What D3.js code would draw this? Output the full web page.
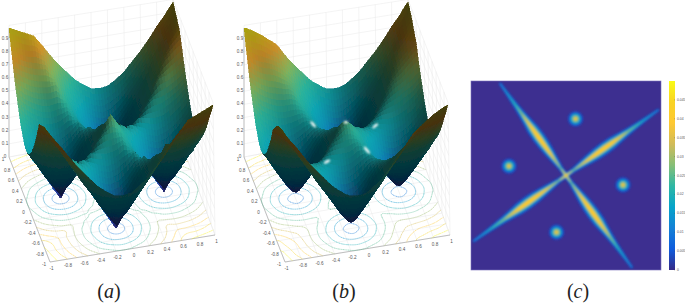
<!DOCTYPE html>
<html>
<head>
<meta charset="utf-8">
<style>
  html, body { margin: 0; background: #fff; }
  text { font-family: "Liberation Sans", Arial, sans-serif; }
</style>
<script src="https://cdn.jsdelivr.net/npm/d3@7"></script>
</head>
<body>
<svg id="chart" width="685" height="304"></svg>
<script>
// surface heights, rows run y = 1 ... -1, columns x = -1 ... 1
const surfaceA = [
  [.98,.95,.92,.89,.81,.72,.64,.57,.50,.45,.41,.40,.41,.45,.50,.57,.64,.72,.81,.89,.98],
  [.89,.85,.82,.81,.76,.67,.58,.50,.42,.36,.32,.30,.32,.36,.42,.50,.58,.67,.76,.85,.95],
  [.81,.76,.73,.71,.70,.63,.54,.45,.36,.28,.22,.20,.22,.28,.36,.45,.54,.63,.73,.82,.92],
  [.72,.67,.63,.61,.60,.61,.51,.41,.32,.22,.14,.10,.14,.22,.32,.41,.51,.61,.71,.81,.89],
  [.64,.58,.54,.51,.50,.51,.50,.40,.30,.20,.10,.00,.10,.20,.30,.40,.50,.60,.70,.76,.81],
  [.57,.50,.45,.41,.40,.41,.45,.41,.32,.22,.14,.10,.14,.22,.32,.41,.51,.61,.63,.67,.72],
  [.50,.42,.36,.32,.30,.32,.36,.42,.36,.28,.22,.20,.22,.28,.36,.45,.50,.51,.54,.58,.64],
  [.45,.36,.28,.22,.20,.22,.28,.36,.42,.36,.32,.30,.32,.36,.42,.41,.40,.41,.45,.50,.57],
  [.41,.32,.22,.14,.10,.14,.22,.32,.41,.45,.41,.40,.41,.42,.36,.32,.30,.32,.36,.42,.50],
  [.40,.30,.20,.10,.00,.10,.20,.30,.40,.50,.51,.50,.45,.36,.28,.22,.20,.22,.28,.36,.45],
  [.41,.32,.22,.14,.10,.14,.22,.32,.41,.51,.61,.51,.41,.32,.22,.14,.10,.14,.22,.32,.41],
  [.45,.36,.28,.22,.20,.22,.28,.36,.45,.50,.51,.50,.40,.30,.20,.10,.00,.10,.20,.30,.40],
  [.50,.42,.36,.32,.30,.32,.36,.42,.41,.40,.41,.45,.41,.32,.22,.14,.10,.14,.22,.32,.41],
  [.57,.50,.45,.41,.40,.41,.42,.36,.32,.30,.32,.36,.42,.36,.28,.22,.20,.22,.28,.36,.45],
  [.64,.58,.54,.51,.50,.45,.36,.28,.22,.20,.22,.28,.36,.42,.36,.32,.30,.32,.36,.42,.50],
  [.72,.67,.63,.61,.51,.41,.32,.22,.14,.10,.14,.22,.32,.41,.45,.41,.40,.41,.45,.50,.57],
  [.81,.76,.70,.60,.50,.40,.30,.20,.10,.00,.10,.20,.30,.40,.50,.51,.50,.51,.54,.58,.64],
  [.89,.81,.71,.61,.51,.41,.32,.22,.14,.10,.14,.22,.32,.41,.51,.61,.60,.61,.63,.67,.72],
  [.92,.82,.73,.63,.54,.45,.36,.28,.22,.20,.22,.28,.36,.45,.54,.63,.70,.71,.73,.76,.81],
  [.95,.85,.76,.67,.58,.50,.42,.36,.32,.30,.32,.36,.42,.50,.58,.67,.76,.81,.82,.85,.89],
  [.98,.89,.81,.72,.64,.57,.50,.45,.41,.40,.41,.45,.50,.57,.64,.72,.81,.89,.92,.95,.98]
];
const surfaceB = [
  [.98,.95,.91,.86,.81,.72,.64,.57,.50,.45,.41,.40,.41,.45,.50,.57,.64,.72,.81,.89,.98],
  [.89,.85,.82,.78,.74,.67,.58,.50,.42,.36,.32,.30,.32,.36,.42,.50,.58,.67,.76,.85,.95],
  [.81,.76,.73,.71,.67,.61,.54,.45,.36,.285,.225,.205,.225,.285,.36,.45,.54,.63,.73,.82,.91],
  [.72,.67,.63,.61,.59,.57,.50,.41,.32,.225,.15,.105,.15,.225,.32,.41,.51,.61,.71,.78,.86],
  [.64,.58,.54,.51,.50,.50,.47,.395,.30,.205,.105,.05,.105,.205,.30,.40,.50,.59,.67,.74,.81],
  [.57,.50,.45,.41,.40,.41,.43,.40,.32,.225,.15,.105,.15,.225,.32,.41,.50,.57,.61,.67,.72],
  [.50,.42,.36,.32,.30,.32,.36,.395,.355,.285,.225,.205,.225,.285,.36,.43,.47,.50,.54,.58,.64],
  [.45,.36,.285,.225,.205,.225,.285,.36,.395,.36,.32,.30,.32,.36,.395,.40,.395,.41,.45,.50,.57],
  [.41,.32,.225,.15,.105,.15,.225,.32,.40,.44,.405,.40,.40,.395,.355,.32,.30,.32,.36,.42,.50],
  [.40,.30,.205,.105,.05,.105,.205,.30,.40,.47,.50,.47,.44,.36,.285,.225,.205,.225,.285,.36,.45],
  [.41,.32,.225,.15,.105,.15,.225,.32,.405,.50,.55,.50,.405,.32,.225,.15,.105,.15,.225,.32,.41],
  [.45,.36,.285,.225,.205,.225,.285,.36,.44,.47,.50,.47,.40,.30,.205,.105,.05,.105,.205,.30,.40],
  [.50,.42,.36,.32,.30,.32,.355,.395,.40,.40,.405,.44,.40,.32,.225,.15,.105,.15,.225,.32,.41],
  [.57,.50,.45,.41,.395,.40,.395,.36,.32,.30,.32,.36,.395,.36,.285,.225,.205,.225,.285,.36,.45],
  [.64,.58,.54,.50,.47,.43,.36,.285,.225,.205,.225,.285,.355,.395,.36,.32,.30,.32,.36,.42,.50],
  [.72,.67,.61,.57,.50,.41,.32,.225,.15,.105,.15,.225,.32,.40,.43,.41,.40,.41,.45,.50,.57],
  [.81,.74,.67,.59,.50,.40,.30,.205,.105,.05,.105,.205,.30,.395,.47,.50,.50,.51,.54,.58,.64],
  [.86,.78,.71,.61,.51,.41,.32,.225,.15,.105,.15,.225,.32,.41,.50,.57,.59,.61,.63,.67,.72],
  [.91,.82,.73,.63,.54,.45,.36,.285,.225,.205,.225,.285,.36,.45,.54,.61,.67,.71,.73,.76,.81],
  [.95,.85,.76,.67,.58,.50,.42,.36,.32,.30,.32,.36,.42,.50,.58,.67,.74,.78,.82,.85,.89],
  [.98,.89,.81,.72,.64,.57,.50,.45,.41,.40,.41,.45,.50,.57,.64,.72,.81,.86,.91,.95,.98]
];

const contourLevels = [.1, .2, .3, .4, .5, .6, .7, .8, .9];
const axisTicks = [-1, -.8, -.6, -.4, -.2, 0, .2, .4, .6, .8, 1];
const heightTicks = [0, .1, .2, .3, .4, .5, .6, .7, .8, .9];

// bright highlights on the rounded ridges of (b)
const glintX = [-.3, .42, -.28, .18, 0];
const glintY = [.42, .3, -.2, -.3, 0];
const glintZ = [.4, .36, .36, .44, .55];

// panel (c): isolated peaks and the four arms
const peakX = [.1, -.6, .6, -.1];
const peakY = [.6, .1, -.1, -.6];
const peakLevels = [.004, .012, .02, .03, .038];
const peakRadii = [.08, .062, .045, .03, .014];
const centreRadii = [.04, .034, .026, .019, .012];
const armAngles = [35.5, 125.5, 215.5, 305.5];
const armStations = [0, .1, .2, .3, .4, .5, .6, .7, .8, .9, 1, 1.1, 1.2];
const armLevels = [.004, .01, .02, .03, .04];
const armWidths = [
  [.024, .028, .042, .056, .066, .07, .066, .052, .04, .03, .024, .018, .015],
  [.02, .016, .03, .042, .052, .056, .052, .04, .028, .02, .015, .012, .008],
  [.016, .008, .018, .03, .038, .042, .038, .026, .016, .01, .005, .002, 0],
  [.01, .003, .01, .02, .027, .03, .026, .016, .006, .002, 0, 0, 0],
  [.005, 0, .002, .01, .016, .019, .014, .005, 0, 0, 0, 0, 0]
];
const barTicks = [0, .005, .01, .015, .02, .025, .03, .035, .04, .045];
const barTickLabels = ["0", "0.005", "0.01", "0.015", "0.02", "0.025", "0.03", "0.035", "0.04", "0.045"];

const parulaStops = ["#352a87", "#0f5cdd", "#1481d6", "#06a4ca", "#2eb7a4", "#87bf77", "#d1bb59", "#fec832", "#f9d324", "#f9fb15"];
const surfaceStops = ["#352a87", "#2040a8", "#1068b0", "#0a88a8", "#0c9aa8", "#2aa890", "#78a858", "#c48a28", "#b4ae10"];
const surfaceStopHeights = [0, .08, .15, .25, .35, .5, .65, .8, .98];

const svg = d3.select("#chart");
const defs = svg.append("defs");

defs.append("filter").attr("id", "soft").attr("x", "-5%").attr("y", "-5%").attr("width", "110%").attr("height", "110%")
  .append("feGaussianBlur").attr("stdDeviation", 0.6);
defs.append("filter").attr("id", "softer").attr("x", "-20%").attr("y", "-20%").attr("width", "140%").attr("height", "140%")
  .append("feGaussianBlur").attr("stdDeviation", 1);
defs.append("filter").attr("id", "glow").attr("x", "-100%").attr("y", "-100%").attr("width", "300%").attr("height", "300%")
  .append("feGaussianBlur").attr("stdDeviation", 0.8);

const parula = d3.scaleLinear()
  .domain(parulaStops.map((c, i) => i / (parulaStops.length - 1)))
  .range(parulaStops)
  .clamp(true);
const surfaceColor = d3.scaleLinear().domain(surfaceStopHeights).range(surfaceStops).clamp(true);

// trilinear box: floor corners and the corners at the top of the surface
const uScale = d3.scaleLinear().domain([-1, 1]).range([0, 1]);
const vScale = d3.scaleLinear().domain([-1, 1]).range([0, 1]);
const wScale = d3.scaleLinear().domain([0, .98]).range([0, 1]);
const floorBox = { fl: [50, 262], fr: [215, 235], bl: [9, 157], br: [175, 126] };
const topBox = { fl: [44, 127], fr: [213, 105], bl: [9, 28], br: [173, 2] };

function mixBox(b, u, v) {
  return [0, 1].map(k =>
    (1 - u) * (1 - v) * b.fl[k] + u * (1 - v) * b.fr[k] + (1 - u) * v * b.bl[k] + u * v * b.br[k]);
}

function project(x, y, z, dx) {
  const u = uScale(x), v = vScale(y), w = wScale(z);
  const a = mixBox(floorBox, u, v), b = mixBox(topBox, u, v);
  return [dx + a[0] + (b[0] - a[0]) * w, a[1] + (b[1] - a[1]) * w];
}

// light comes from the right and a little from the front, camera from the front left
const light = [.71, -.36, .6];
const camera = [-.22, -.9, .38];

function sampleGrid(grid, ci, cj) {
  const last = grid.length - 2;
  const i = Math.min(Math.floor(ci), last), j = Math.min(Math.floor(cj), last);
  const s = ci - i, t = cj - j;
  return (1 - s) * (1 - t) * grid[j][i] + s * (1 - t) * grid[j][i + 1] +
    (1 - s) * t * grid[j + 1][i] + s * t * grid[j + 1][i + 1];
}

function vertexSlopes(grid) {
  const n = grid.length, h = 2 / (n - 1);
  const gx = grid.map((row, j) => row.map((_, i) => {
    const a = Math.max(i - 1, 0), b = Math.min(i + 1, n - 1);
    return (grid[j][b] - grid[j][a]) / ((b - a) * h);
  }));
  const gy = grid.map((row, j) => row.map((_, i) => {
    const a = Math.max(j - 1, 0), b = Math.min(j + 1, n - 1);
    return (grid[a][i] - grid[b][i]) / ((b - a) * h);
  }));
  return { gx, gy };
}

// rendering only, like shading interp: rounds the read grid between its samples
function refine(grid, factor) {
  const cubic = (p, t) => {
    const [a, b, c, d] = p;
    return b + .5 * t * (c - a + t * (2 * a - 5 * b + 4 * c - d + t * (3 * (b - c) + d - a)));
  };
  const pass = row => {
    const out = [];
    for (let i = 0; i < row.length - 1; i++) {
      const p = [row[Math.max(i - 1, 0)], row[i], row[i + 1], row[Math.min(i + 2, row.length - 1)]];
      for (let k = 0; k < factor; k++) out.push(cubic(p, k / factor));
    }
    out.push(row[row.length - 1]);
    return out;
  };
  const rows = grid.map(pass);
  const cols = d3.transpose(rows).map(pass);
  return d3.transpose(cols);
}

function buildQuads(grid, creased, dx, steps) {
  const quads = [];
  const cells = grid.length - 1, h = 2 / cells;
  const slopes = vertexSlopes(grid);
  const fine = refine(grid, steps);
  const fineX = refine(slopes.gx, steps);
  const fineY = refine(slopes.gy, steps);
  const size = 1 / steps;
  const toX = c => -1 + c * h, toY = c => 1 - c * h;
  // creased surfaces keep straight facets between samples so cone tips stay sharp
  const height = (r, q) => creased ? sampleGrid(grid, q * size, r * size) : fine[r][q];
  // back rows first, then right to left, so nearer facets paint over farther ones
  for (let r = 0; r < cells * steps; r++) {
    for (let q = cells * steps - 1; q >= 0; q--) {
      const i0 = q * size, j0 = r * size, i1 = i0 + size, j1 = j0 + size;
      const z00 = height(r, q), z10 = height(r, q + 1);
      const z01 = height(r + 1, q), z11 = height(r + 1, q + 1);
      const fx = sampleGrid(fineX, q + .5, r + .5);
      const fy = sampleGrid(fineY, q + .5, r + .5);
      let n = [-fx, -fy, 1];
      const len = Math.hypot(n[0], n[1], n[2]);
      n = n.map(v => v / len);
      if (d3.sum(n, (v, k) => v * camera[k]) < 0) n = n.map(v => -v);
      const diffuse = Math.max(0, d3.sum(n, (v, k) => v * light[k]));
      const shade = .36 + .72 * Math.pow(diffuse, 1.2);
      const zMid = (z00 + z10 + z01 + z11) / 4;
      const c = d3.rgb(surfaceColor(zMid));
      const fill = d3.rgb(c.r * shade, c.g * shade, c.b * shade).formatRgb();
      quads.push({
        pts: [
          project(toX(i0), toY(j0), z00, dx), project(toX(i1), toY(j0), z10, dx),
          project(toX(i1), toY(j1), z11, dx), project(toX(i0), toY(j1), z01, dx)
        ],
        fill
      });
    }
  }
  return quads;
}

const quadPath = d3.line().curve(d3.curveLinearClosed);

function drawFrame(g, dx) {
  const lineOf = d3.line();
  const gridColor = "#e9e9e9";
  const walls = [];
  axisTicks.forEach(t => {
    walls.push([project(t, -1, 0, dx), project(t, 1, 0, dx)]);
    walls.push([project(-1, t, 0, dx), project(1, t, 0, dx)]);
    walls.push([project(t, 1, 0, dx), project(t, 1, 1, dx)]);
    walls.push([project(1, t, 0, dx), project(1, t, 1, dx)]);
  });
  heightTicks.concat([1]).forEach(h => {
    walls.push([project(-1, 1, h, dx), project(1, 1, h, dx)]);
    walls.push([project(1, 1, h, dx), project(1, -1, h, dx)]);
  });
  g.append("g").selectAll("path").data(walls).join("path")
    .attr("d", lineOf).attr("fill", "none").attr("stroke", gridColor).attr("stroke-width", 0.5);

  const axes = [
    [project(-1, 1, 0, dx), project(-1, -1, 0, dx)],
    [project(-1, -1, 0, dx), project(1, -1, 0, dx)],
    [project(-1, 1, 0, dx), project(-1, 1, .98, dx)]
  ];
  g.append("g").selectAll("path").data(axes).join("path")
    .attr("d", lineOf).attr("fill", "none").attr("stroke", "#9a9a9a").attr("stroke-width", 0.6);

  const label = s => String(s);
  g.append("g").selectAll("text").data(axisTicks).join("text")
    .attr("x", d => project(d, -1, 0, dx)[0] + 1.5)
    .attr("y", d => project(d, -1, 0, dx)[1] + 8)
    .attr("text-anchor", "middle").attr("font-size", 4.6).attr("fill", "#555")
    .text(label);
  g.append("g").selectAll("text").data(axisTicks).join("text")
    .attr("x", d => project(-1, d, 0, dx)[0] - 6)
    .attr("y", d => project(-1, d, 0, dx)[1] + 4)
    .attr("text-anchor", "middle").attr("font-size", 4.6).attr("fill", "#555")
    .text(label);
  g.append("g").selectAll("text").data(heightTicks).join("text")
    .attr("x", d => project(-1, 1, d, dx)[0] - 4)
    .attr("y", d => project(-1, 1, d, dx)[1] + 1)
    .attr("text-anchor", "middle").attr("font-size", 4.6).attr("fill", "#555")
    .text(label);
}

function drawContours(g, grid, dx) {
  const fine = refine(grid, 4);
  const n = fine.length, h = 2 / (n - 1);
  const contours = d3.contours().size([n, n]).smooth(true).thresholds(contourLevels)(fine.flat());
  const lo = .5, hi = n - .5;
  const clampC = c => Math.max(lo, Math.min(hi, c));
  const sameBorder = (a, b) =>
    (a[0] === b[0] && (a[0] === lo || a[0] === hi)) || (a[1] === b[1] && (a[1] === lo || a[1] === hi));
  contours.forEach(c => {
    const p = d3.path();
    c.coordinates.forEach(poly => poly.forEach(ring => {
      for (let k = 1; k < ring.length; k++) {
        const a = ring[k - 1].map(clampC), b = ring[k].map(clampC);
        if (sameBorder(a, b)) continue;
        const pa = project(-1 + (a[0] - .5) * h, 1 - (a[1] - .5) * h, 0, dx);
        const pb = project(-1 + (b[0] - .5) * h, 1 - (b[1] - .5) * h, 0, dx);
        p.moveTo(pa[0], pa[1]);
        p.lineTo(pb[0], pb[1]);
      }
    }));
    g.append("path").attr("d", p.toString())
      .attr("fill", "none").attr("stroke", parula(c.value * .98 + .1))
      .attr("stroke-width", 0.5).attr("stroke-opacity", 0.52).attr("stroke-linecap", "round");
  });
}

function drawSurface(g, grid, creased, dx, steps) {
  // crisp edges: antialiased seams between facets would let the white page show through
  g.append("g").attr("filter", "url(#soft)").attr("shape-rendering", "crispEdges")
    .selectAll("path").data(buildQuads(grid, creased, dx, steps)).join("path")
    .attr("d", d => quadPath(d.pts))
    .attr("fill", d => d.fill)
    .attr("stroke", d => d.fill)
    .attr("stroke-width", 0.6);
}

// panels (a) and (b)
const panelA = svg.append("g");
drawFrame(panelA, 0);
drawContours(panelA, surfaceA, 0);
drawSurface(panelA, surfaceA, true, 0, 3);

const panelB = svg.append("g");
drawFrame(panelB, 235);
drawContours(panelB, surfaceB, 235);
drawSurface(panelB, surfaceB, false, 235, 3);

const glintTilt = [50, -40, -30, 50, 0];
const glintLength = [4, 3.5, 3.5, 4.5, 2];
panelB.append("g").attr("filter", "url(#glow)").selectAll("ellipse").data(glintX).join("ellipse")
  .attr("transform", (d, i) => {
    const p = project(d, glintY[i], glintZ[i], 235);
    return `translate(${p[0]},${p[1]}) rotate(${glintTilt[i]})`;
  })
  .attr("rx", (d, i) => glintLength[i])
  .attr("ry", 1.2)
  .attr("fill", "#fff");

// panel (c)
const heatX = d3.scaleLinear().domain([-1, 1]).range([471, 661]);
const heatY = d3.scaleLinear().domain([-1, 1]).range([270, 81]);
const heatColor = d3.scaleLinear().domain([0, .05]).range([0, 1]);

defs.append("clipPath").attr("id", "heatClip").append("rect")
  .attr("x", heatX(-1)).attr("y", heatY(1))
  .attr("width", heatX(1) - heatX(-1)).attr("height", heatY(-1) - heatY(1));

const panelC = svg.append("g");
panelC.append("rect")
  .attr("x", heatX(-1)).attr("y", heatY(1))
  .attr("width", heatX(1) - heatX(-1)).attr("height", heatY(-1) - heatY(1))
  .attr("fill", "#3d2f90");

const blobs = panelC.append("g").attr("clip-path", "url(#heatClip)").append("g").attr("filter", "url(#softer)");

function armOutline(angleDeg, widths) {
  const a = angleDeg * Math.PI / 180;
  const dir = [Math.cos(a), Math.sin(a)], nor = [-Math.sin(a), Math.cos(a)];
  const side = s => armStations.map((t, i) => [
    heatX(dir[0] * t + s * nor[0] * widths[i]),
    heatY(dir[1] * t + s * nor[1] * widths[i])
  ]);
  return quadPath(side(1).concat(side(-1).reverse()));
}

armLevels.forEach((level, k) => {
  blobs.append("g").selectAll("path").data(armAngles).join("path")
    .attr("d", d => armOutline(d, armWidths[k]))
    .attr("fill", parula(heatColor(level)));
  blobs.append("g").selectAll("circle").data(peakX).join("circle")
    .attr("cx", d => heatX(d))
    .attr("cy", (d, i) => heatY(peakY[i]))
    .attr("r", heatX(peakRadii[k]) - heatX(0))
    .attr("fill", parula(heatColor(peakLevels[k])));
  blobs.append("circle")
    .attr("cx", heatX(0)).attr("cy", heatY(0))
    .attr("r", heatX(centreRadii[k]) - heatX(0))
    .attr("fill", parula(heatColor(peakLevels[k])));
});

panelC.append("rect")
  .attr("x", heatX(-1)).attr("y", heatY(1))
  .attr("width", heatX(1) - heatX(-1)).attr("height", heatY(-1) - heatY(1))
  .attr("fill", "none").attr("stroke", "#7c72bc").attr("stroke-width", 0.6);

// colour bar
const barY = d3.scaleLinear().domain([0, .05]).range([270, 81]);
const barGrad = defs.append("linearGradient").attr("id", "barGrad")
  .attr("x1", 0).attr("x2", 0).attr("y1", 1).attr("y2", 0);
parulaStops.forEach((c, i) => {
  barGrad.append("stop").attr("offset", i / (parulaStops.length - 1)).attr("stop-color", c);
});
panelC.append("rect").attr("x", 669).attr("y", barY(.05)).attr("width", 6).attr("height", barY(0) - barY(.05))
  .attr("fill", "url(#barGrad)");
panelC.append("g").selectAll("line").data(barTicks).join("line")
  .attr("x1", 674).attr("x2", 675)
  .attr("y1", d => barY(d)).attr("y2", d => barY(d))
  .attr("stroke", "#444").attr("stroke-width", 0.3);
panelC.append("g").selectAll("text").data(barTicks).join("text")
  .attr("x", 677).attr("y", d => barY(d) + 1)
  .attr("font-size", 3.4).attr("fill", "#555")
  .text((d, i) => barTickLabels[i]);

// captions
const captionLetters = ["a", "b", "c"];
const captionX = [109, 344, 578];
const captions = svg.append("g").selectAll("text").data(captionLetters).join("text")
  .attr("x", (d, i) => captionX[i]).attr("y", 298)
  .attr("text-anchor", "middle")
  .style("font-family", '"Liberation Serif", serif')
  .attr("font-size", 20).attr("fill", "#222");
captions.append("tspan").text("(");
captions.append("tspan").attr("font-style", "italic").text(d => d);
captions.append("tspan").text(")");
</script>
</body>
</html>
